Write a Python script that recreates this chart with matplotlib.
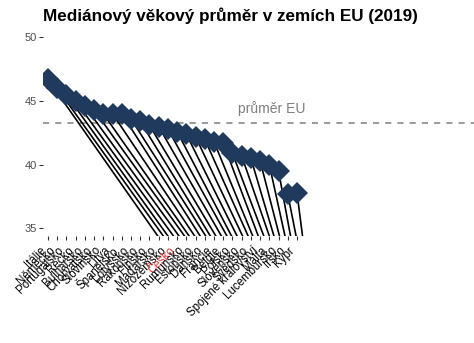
import matplotlib.pyplot as plt
import numpy as np

plt.rcParams['font.family'] = ['Liberation Sans', 'DejaVu Sans']

# countries sorted by median age (2019)
countries = ['Itálie', 'Německo', 'Portugalsko', 'Řecko', 'Bulharsko', 'Chorvatsko',
             'Slovinsko', 'Litva', 'Španělsko', 'Lotyšsko', 'Rakousko', 'Finsko',
             'Maďarsko', 'Nizozemsko', 'Česko', 'Rumunsko', 'Estonsko', 'Dánsko',
             'Francie', 'Belgie', 'Polsko', 'Slovensko', 'Švédsko', 'Spojené království',
             'Malta', 'Lucembursko', 'Irsko', 'Kypr']
median_age = [46.7, 46.0, 45.5, 45.0, 44.6, 44.3, 44.0, 44.0, 44.0, 43.6, 43.4, 43.1,
              43.0, 42.8, 42.6, 42.4, 42.2, 42.0, 41.8, 41.7, 40.9, 40.7, 40.5, 40.3,
              40.0, 39.5, 37.7, 37.8]
# where each stem meets the bottom of the panel (category units)
stem_bottom = [11.9, 12.5, 13.0, 13.6, 14.2, 14.8, 15.3, 15.9, 16.5, 17.1, 17.6, 18.2,
               18.8, 19.4, 19.9, 20.5, 21.1, 21.7, 22.2, 22.8, 23.4, 24.0, 24.5, 25.1,
               25.7, 26.3, 26.9, 27.6]
eu_mean = 43.3
highlight = 'Česko'

y_low = 34.4
x = np.arange(len(countries))

fig = plt.figure(figsize=(4.74, 3.43), dpi=100)
ax = fig.add_axes([0.0897, 0.312, 0.9103, 0.601])

for xi, v, xb in zip(x, median_age, stem_bottom):
    ax.plot([xi, xb], [v, y_low], color='black', lw=1.2, zorder=2)

ax.plot(x, median_age, linestyle='none', marker='D', markersize=11,
        color='#1f3a5c', markeredgewidth=0, zorder=3)

ax.axhline(eu_mean, color='#7f7f7f', lw=1.1, linestyle=(0, (4, 4)), zorder=1)
ax.text(24.3, 44.42, 'průměr EU', color='#7f7f7f', fontsize=10, ha='center', va='center')

ax.set_xlim(-0.6, 46.2)
ax.set_ylim(y_low, 50.6)
ax.set_yticks([35, 40, 45, 50])
ax.set_xticks(x)
ax.set_xticklabels(countries, rotation=45, ha='right', va='top', fontsize=8.3)
for lbl in ax.get_xticklabels():
    if lbl.get_text() == highlight:
        lbl.set_color('#f03c3c')
ax.tick_params(axis='y', labelsize=8, labelcolor='#4d4d4d', color='#333333', length=3, pad=1)
ax.tick_params(axis='x', color='#333333', length=3, pad=3)
for s in ax.spines.values():
    s.set_visible(False)

fig.text(0.486, 0.955, 'Mediánový věkový průměr v zemích EU (2019)',
         fontsize=12.3, fontweight='bold', ha='center', va='center')

fig.savefig('out.png', dpi=100)
